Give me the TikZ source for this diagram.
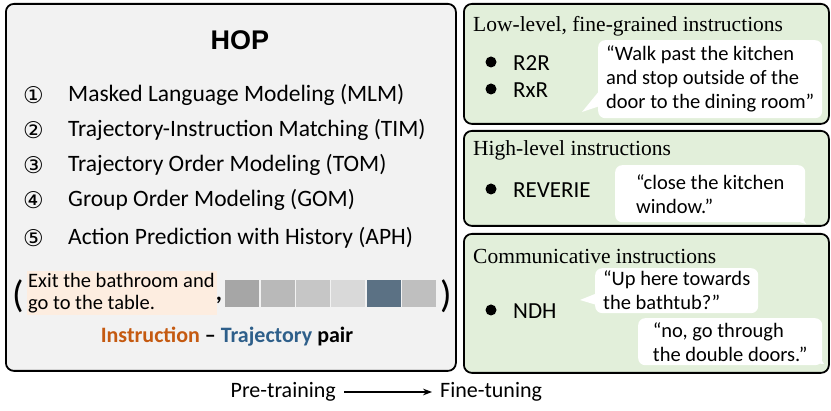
\documentclass[tikz,border=0pt]{standalone}
\usepackage{fontspec}
\usetikzlibrary{positioning,arrows.meta}
\setmainfont{Carlito}
\newfontfamily\serifx{Liberation Serif}
\newfontfamily\arialx{Liberation Sans}
\newfontfamily\djv{DejaVu Sans}
\definecolor{leftbg}{HTML}{F2F2F2}
\definecolor{greenbg}{HTML}{E2EFDA}
\definecolor{hilite}{HTML}{FDEDE0}
\definecolor{instr}{HTML}{C55A11}
\definecolor{traj}{HTML}{2E5F8A}
\begin{document}
\begin{tikzpicture}[x=1pt,y=-1pt,
  panel/.style={draw=black,line width=1.8pt,rounded corners=8pt},
  item/.style={anchor=west,font=\fontsize{23.5}{26}\selectfont,inner sep=0},
  num/.style={anchor=west,font=\djv\fontsize{23}{26}\selectfont,inner sep=0},
  ttl/.style={anchor=west,font=\serifx\fontsize{21.5}{24}\selectfont,inner sep=0},
  bul/.style={circle,fill=black,inner sep=0,minimum size=11pt},
  ds/.style={anchor=west,font=\fontsize{23}{26}\selectfont,inner sep=0},
  bubble/.style={fill=white,rounded corners=7pt,align=left,font=\fontsize{20.5}{24}\selectfont,inner sep=4pt,anchor=north west},
  tile/.style={minimum width=34pt,minimum height=27pt,inner sep=0,anchor=west}]
\useasboundingbox (0,0) rectangle (831,411);
% left panel
\node[panel,fill=leftbg,minimum width=450pt,minimum height=367pt,anchor=north west] (left) at (5,3) {};
\node[font=\arialx\bfseries\fontsize{27}{30}\selectfont] (hop) at (240,40) {HOP};
\foreach \n/\y/\t in {1/95/Masked Language Modeling (MLM),2/130/Trajectory-Instruction Matching (TIM),3/165/Trajectory Order Modeling (TOM),4/200/Group Order Modeling (GOM),5/238/Action Prediction with History (APH)}{
  \node[num] (n\n) at (23,\y) {\ifcase\n\or①\or②\or③\or④\or⑤\fi};
  \node[item] (t\n) at (68,\y) {\t};
}
\node[fill=hilite,minimum width=190pt,minimum height=44pt,anchor=north west,inner sep=0] (hl) at (27,271) {};
\node[anchor=north west,align=left,inner sep=0,font=\fontsize{20.5}{22}\selectfont] (ins) at (28,273) {Exit the bathroom and\\go to the table.};
\node[font=\fontsize{38}{38}\selectfont,inner sep=0] (lp) at (18,296) {(};
\node[font=\bfseries\fontsize{24}{24}\selectfont,inner sep=0] (cm) at (219,300) {,};
\node[tile,fill=gray!70] (i1) at (225,294) {};
\node[tile,fill=gray!55,right=1pt of i1] (i2) {};
\node[tile,fill=gray!45,right=1pt of i2] (i3) {};
\node[tile,fill=gray!30,right=1pt of i3] (i4) {};
\node[tile,fill=traj!45!gray,right=1pt of i4] (i5) {};
\node[tile,fill=gray!50,right=1pt of i5] (i6) {};
\node[font=\fontsize{38}{38}\selectfont,inner sep=0] (rp) at (446,296) {)};
\node[font=\bfseries\fontsize{22}{24}\selectfont] (pair) at (227,337) {\textcolor{instr}{Instruction} -- \textcolor{traj}{Trajectory} pair};
% bottom
\node[font=\fontsize{22}{24}\selectfont,anchor=east,inner sep=0] (pre) at (336,392) {Pre-training};
\node[font=\fontsize{22}{24}\selectfont,anchor=west,inner sep=0] (fine) at (440,392) {Fine-tuning};
\draw[line width=1.3pt,-{Stealth[length=9pt]},shorten <=8pt,shorten >=8pt] (pre) -- (fine);
% right panels
\node[panel,fill=greenbg,minimum width=365pt,minimum height=120pt,anchor=north west] (b1) at (463,3) {};
\node[panel,fill=greenbg,minimum width=365pt,minimum height=95pt,anchor=north west] (b2) at (463,130) {};
\node[panel,fill=greenbg,minimum width=365pt,minimum height=139pt,anchor=north west] (b3) at (463,233) {};
\node[ttl] (h1) at (473,26) {Low-level, fine-grained instructions};
\node[ttl] (h2) at (473,150) {High-level instructions};
\node[ttl] (h3) at (473,256) {Communicative instructions};
\node[bul] (c1) at (491,62) {}; \node[ds] (r2r) at (513,63) {R2R};
\node[bul] (c2) at (491,89) {}; \node[ds] (rxr) at (513,90) {RxR};
\node[bul] (c3) at (491,189) {}; \node[ds] (rev) at (513,190) {REVERIE};
\node[bul] (c4) at (491,310) {}; \node[ds] (ndh) at (513,311) {NDH};
% bubbles
\node[bubble,minimum width=224pt,minimum height=78pt] (q1) at (598,40) {“Walk past the kitchen\\and stop outside of the\\door to the dining room”};
\fill[white] (600,90) -- (582,112) -- (600,106) -- cycle;
\node[bubble,minimum width=190pt,minimum height=57pt] (q2) at (615,165) {“close the kitchen\\window.”};
\fill[white] (795,206) -- (806,224) -- (780,216) -- cycle;
\node[bubble,minimum width=163pt,minimum height=44pt,inner sep=3pt] (q3) at (595,268) {“Up here towards\\the bathtub?"};
\fill[white] (600,292) -- (580,300) -- (600,306) -- cycle;
\node[bubble,minimum width=184pt,minimum height=47pt,inner sep=3pt] (q4) at (638,318) {“no, go through\\the double doors.”};
\fill[white] (812,345) -- (824,364) -- (800,362) -- cycle;
\end{tikzpicture}
\end{document}
